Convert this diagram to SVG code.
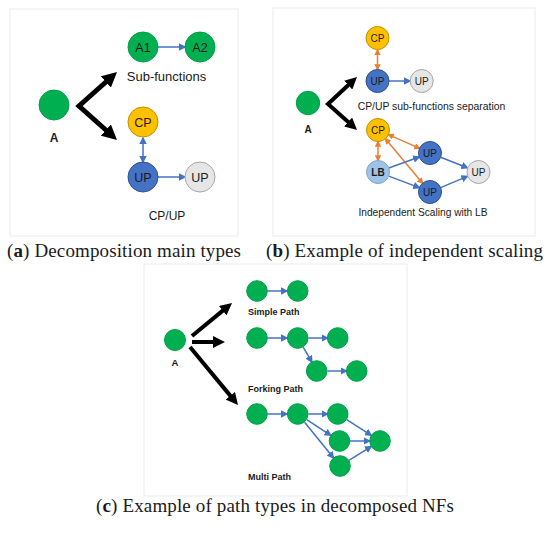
<svg xmlns="http://www.w3.org/2000/svg" width="550" height="533" viewBox="0 0 550 533">
<style>
.frame{fill:#ffffff;stroke:#ebebeb;stroke-width:1}
.g{fill:#00B050;stroke:#00A048;stroke-width:1}
.y{fill:#FFC000;stroke:#BF9000;stroke-width:1}
.b{fill:#4472C4;stroke:#2F528F;stroke-width:1}
.gr{fill:#E7E6E6;stroke:#A6A6A6;stroke-width:1}
.lb{fill:#9DC3E6;stroke:#7FA7D0;stroke-width:1}
.nl{font-family:"Liberation Sans",Arial,sans-serif;fill:#1a1a1a;text-anchor:middle}
.lab{font-family:"Liberation Sans",Arial,sans-serif;fill:#1a1a1a}
.bold{font-weight:bold}
.cap{font-family:"Liberation Serif","Times New Roman",serif;font-size:19px;fill:#1a1a1a}
.big{fill:none;stroke:#000;stroke-linejoin:miter;stroke-miterlimit:10}
.blue{fill:none;stroke:#4472C4;stroke-width:1.5}
.orange{fill:none;stroke:#ED7D31;stroke-width:1.5}
</style>
<defs>
<marker id="bigHead" viewBox="0 0 10 10" refX="2" refY="5" markerWidth="3" markerHeight="3" markerUnits="strokeWidth" orient="auto-start-reverse">
<path d="M0,0 L10,5 L0,10 z" fill="#000"/>
</marker>
<marker id="blueHead" viewBox="0 0 10 10" refX="8" refY="5" markerWidth="7.5" markerHeight="7.5" markerUnits="userSpaceOnUse" orient="auto-start-reverse">
<path d="M0,0 L10,5 L0,10 z" fill="#4472C4"/>
</marker>
<marker id="orangeHead" viewBox="0 0 10 10" refX="8" refY="5" markerWidth="6.5" markerHeight="6.5" markerUnits="userSpaceOnUse" orient="auto-start-reverse">
<path d="M0,0 L10,5 L0,10 z" fill="#ED7D31"/>
</marker>
</defs>

<rect width="550" height="533" fill="#ffffff"/>

<!-- frames -->
<g id="frames">
<rect class="frame" x="10" y="9" width="228" height="227"/>
<rect class="frame" x="273" y="8" width="262" height="228"/>
<rect class="frame" x="144" y="264" width="263" height="232"/>
</g>

<!-- connectors -->
<g id="connectors">
<!-- panel a -->
<path class="big" stroke-width="5" d="M108.1,80 L79,106 L108.1,132" marker-start="url(#bigHead)" marker-end="url(#bigHead)"/>
<line class="blue" x1="158" y1="47" x2="185" y2="47" marker-end="url(#blueHead)"/>
<line class="blue" x1="143" y1="138" x2="143" y2="162" marker-start="url(#blueHead)" marker-end="url(#blueHead)"/>
<line class="blue" x1="158" y1="177" x2="185" y2="177" marker-end="url(#blueHead)"/>
<!-- panel b -->
<path class="big" stroke-width="4" d="M350,83.5 L328,104 L349.9,123.6" marker-start="url(#bigHead)" marker-end="url(#bigHead)"/>
<line class="orange" x1="377.5" y1="50" x2="377.5" y2="69.5" marker-start="url(#orangeHead)" marker-end="url(#orangeHead)"/>
<line class="blue" x1="389" y1="81" x2="410" y2="81" marker-end="url(#blueHead)"/>
<line class="orange" x1="378" y1="141.5" x2="378" y2="160.5" marker-start="url(#orangeHead)" marker-end="url(#orangeHead)"/>
<line class="orange" x1="388.5" y1="134.6" x2="419.5" y2="148.4" marker-start="url(#orangeHead)" marker-end="url(#orangeHead)"/>
<line class="orange" x1="385.4" y1="138.8" x2="422.6" y2="183.2" marker-start="url(#orangeHead)" marker-end="url(#orangeHead)"/>
<line class="blue" x1="388.8" y1="168" x2="419.2" y2="157" marker-end="url(#blueHead)"/>
<line class="blue" x1="388.7" y1="176.1" x2="419.3" y2="187.6" marker-end="url(#blueHead)"/>
<line class="blue" x1="440.7" y1="157.2" x2="467.3" y2="167.8" marker-end="url(#blueHead)"/>
<line class="blue" x1="440.6" y1="187.6" x2="467.4" y2="176.4" marker-end="url(#blueHead)"/>
<!-- panel c -->
<line class="big" stroke-width="4" x1="192" y1="336" x2="224.6" y2="309.1" marker-end="url(#bigHead)"/>
<line class="big" stroke-width="4" x1="192" y1="342" x2="215.4" y2="342" marker-end="url(#bigHead)"/>
<line class="big" stroke-width="4" x1="190" y1="347" x2="231.9" y2="397.6" marker-end="url(#bigHead)"/>
<line class="blue" x1="267.5" y1="291" x2="287" y2="291" marker-end="url(#blueHead)"/>
<line class="blue" x1="267.5" y1="338" x2="287" y2="338" marker-end="url(#blueHead)"/>
<line class="blue" x1="308.5" y1="338" x2="327.5" y2="338" marker-end="url(#blueHead)"/>
<line class="blue" x1="303.2" y1="347.1" x2="311.8" y2="361.9" marker-end="url(#blueHead)"/>
<line class="blue" x1="327.5" y1="371" x2="346.5" y2="371" marker-end="url(#blueHead)"/>
<line class="blue" x1="267.5" y1="414" x2="287" y2="414" marker-end="url(#blueHead)"/>
<line class="blue" x1="308.5" y1="414" x2="327.5" y2="414" marker-end="url(#blueHead)"/>
<line class="blue" x1="306.8" y1="419.7" x2="330.7" y2="435.3" marker-end="url(#blueHead)"/>
<line class="blue" x1="304.6" y1="422.2" x2="333.4" y2="457.8" marker-end="url(#blueHead)"/>
<line class="blue" x1="346.8" y1="419.7" x2="371.2" y2="435.3" marker-end="url(#blueHead)"/>
<line class="blue" x1="350" y1="441" x2="369.5" y2="441" marker-end="url(#blueHead)"/>
<line class="blue" x1="348.9" y1="460.4" x2="371.1" y2="446.6" marker-end="url(#blueHead)"/>
</g>

<!-- panel a nodes -->
<g id="a-A"><circle class="g" cx="54" cy="105" r="15"/><text class="lab bold" x="54" y="142" font-size="12" text-anchor="middle">A</text></g>
<g id="a-A1"><circle class="g" cx="143" cy="47" r="15"/><text class="nl" x="143" y="51.5" font-size="12.5">A1</text></g>
<g id="a-A2"><circle class="g" cx="200" cy="47" r="15"/><text class="nl" x="200" y="51.5" font-size="12.5">A2</text></g>
<g id="a-CP"><circle class="y" cx="143" cy="122" r="15"/><text class="nl" x="143" y="126.5" font-size="12.5">CP</text></g>
<g id="a-UP"><circle class="b" cx="143" cy="177" r="15"/><text class="nl" x="143" y="181.5" font-size="12.5">UP</text></g>
<g id="a-UP2"><circle class="gr" cx="200" cy="177" r="15"/><text class="nl" x="200" y="181.5" font-size="12.5">UP</text></g>
<g id="a-labels">
<text class="lab" x="166.5" y="81" font-size="13" text-anchor="middle">Sub-functions</text>
<text class="lab" x="167" y="220" font-size="12" text-anchor="middle">CP/UP</text>
</g>

<!-- panel b nodes -->
<g id="b-A"><circle class="g" cx="308" cy="103" r="11.7"/><text class="lab bold" x="308" y="133" font-size="10" text-anchor="middle">A</text></g>
<g id="b-CP1"><circle class="y" cx="377.5" cy="38" r="11.5"/><text class="nl" x="377.5" y="41.6" font-size="10">CP</text></g>
<g id="b-UP1"><circle class="b" cx="377.5" cy="81" r="11.5"/><text class="nl" x="377.5" y="84.6" font-size="10">UP</text></g>
<g id="b-UPg1"><circle class="gr" cx="421.7" cy="81" r="11.5"/><text class="nl" x="421.7" y="84.6" font-size="10">UP</text></g>
<g id="b-CP2"><circle class="y" cx="378" cy="130" r="11.5"/><text class="nl" x="378" y="133.6" font-size="10">CP</text></g>
<g id="b-LB"><circle class="lb" cx="378" cy="172" r="11.5"/><text class="nl bold" x="378" y="175.6" font-size="10">LB</text></g>
<g id="b-UP2"><circle class="b" cx="430" cy="153" r="11.5"/><text class="nl" x="430" y="156.6" font-size="10">UP</text></g>
<g id="b-UP3"><circle class="b" cx="430" cy="192" r="11.5"/><text class="nl" x="430" y="195.6" font-size="10">UP</text></g>
<g id="b-UPg2"><circle class="gr" cx="478.5" cy="172" r="11.5"/><text class="nl" x="478.5" y="175.6" font-size="10">UP</text></g>
<g id="b-labels">
<text class="lab" x="431.5" y="110" font-size="10.4" text-anchor="middle">CP/UP sub-functions separation</text>
<text class="lab" x="423" y="216" font-size="10.2" text-anchor="middle">Independent Scaling with LB</text>
</g>

<!-- panel c nodes -->
<g id="c-A"><circle class="g" cx="175" cy="340" r="10.5"/><text class="lab bold" x="175" y="366" font-size="9.5" text-anchor="middle">A</text></g>
<g id="c-s1"><circle class="g" cx="257" cy="291" r="10.3"/></g>
<g id="c-s2"><circle class="g" cx="297.7" cy="291" r="10.3"/></g>
<g id="c-f1"><circle class="g" cx="257" cy="338" r="10.3"/></g>
<g id="c-f2"><circle class="g" cx="297.7" cy="338" r="10.3"/></g>
<g id="c-f3"><circle class="g" cx="337.7" cy="338" r="10.3"/></g>
<g id="c-f4"><circle class="g" cx="316.7" cy="371" r="10.3"/></g>
<g id="c-f5"><circle class="g" cx="356.7" cy="371" r="10.3"/></g>
<g id="c-m1"><circle class="g" cx="257" cy="414" r="10.3"/></g>
<g id="c-m2"><circle class="g" cx="297.7" cy="414" r="10.3"/></g>
<g id="c-m3"><circle class="g" cx="337.7" cy="414" r="10.3"/></g>
<g id="c-m4"><circle class="g" cx="339.5" cy="441" r="10.3"/></g>
<g id="c-m5"><circle class="g" cx="380" cy="441" r="10.3"/></g>
<g id="c-m6"><circle class="g" cx="340" cy="466" r="10.3"/></g>
<g id="c-labels">
<text class="lab bold" x="248" y="315" font-size="9">Simple Path</text>
<text class="lab bold" x="248" y="391.5" font-size="9">Forking Path</text>
<text class="lab bold" x="248" y="480" font-size="9">Multi Path</text>
</g>

<!-- captions -->
<g id="captions">
<text class="cap" x="7" y="257" textLength="234" lengthAdjust="spacing">(<tspan font-weight="bold">a</tspan>) Decomposition main types</text>
<text class="cap" x="266" y="257" textLength="277" lengthAdjust="spacing">(<tspan font-weight="bold">b</tspan>) Example of independent scaling</text>
<text class="cap" x="96" y="512" textLength="358" lengthAdjust="spacing">(<tspan font-weight="bold">c</tspan>) Example of path types in decomposed NFs</text>
</g>
</svg>
